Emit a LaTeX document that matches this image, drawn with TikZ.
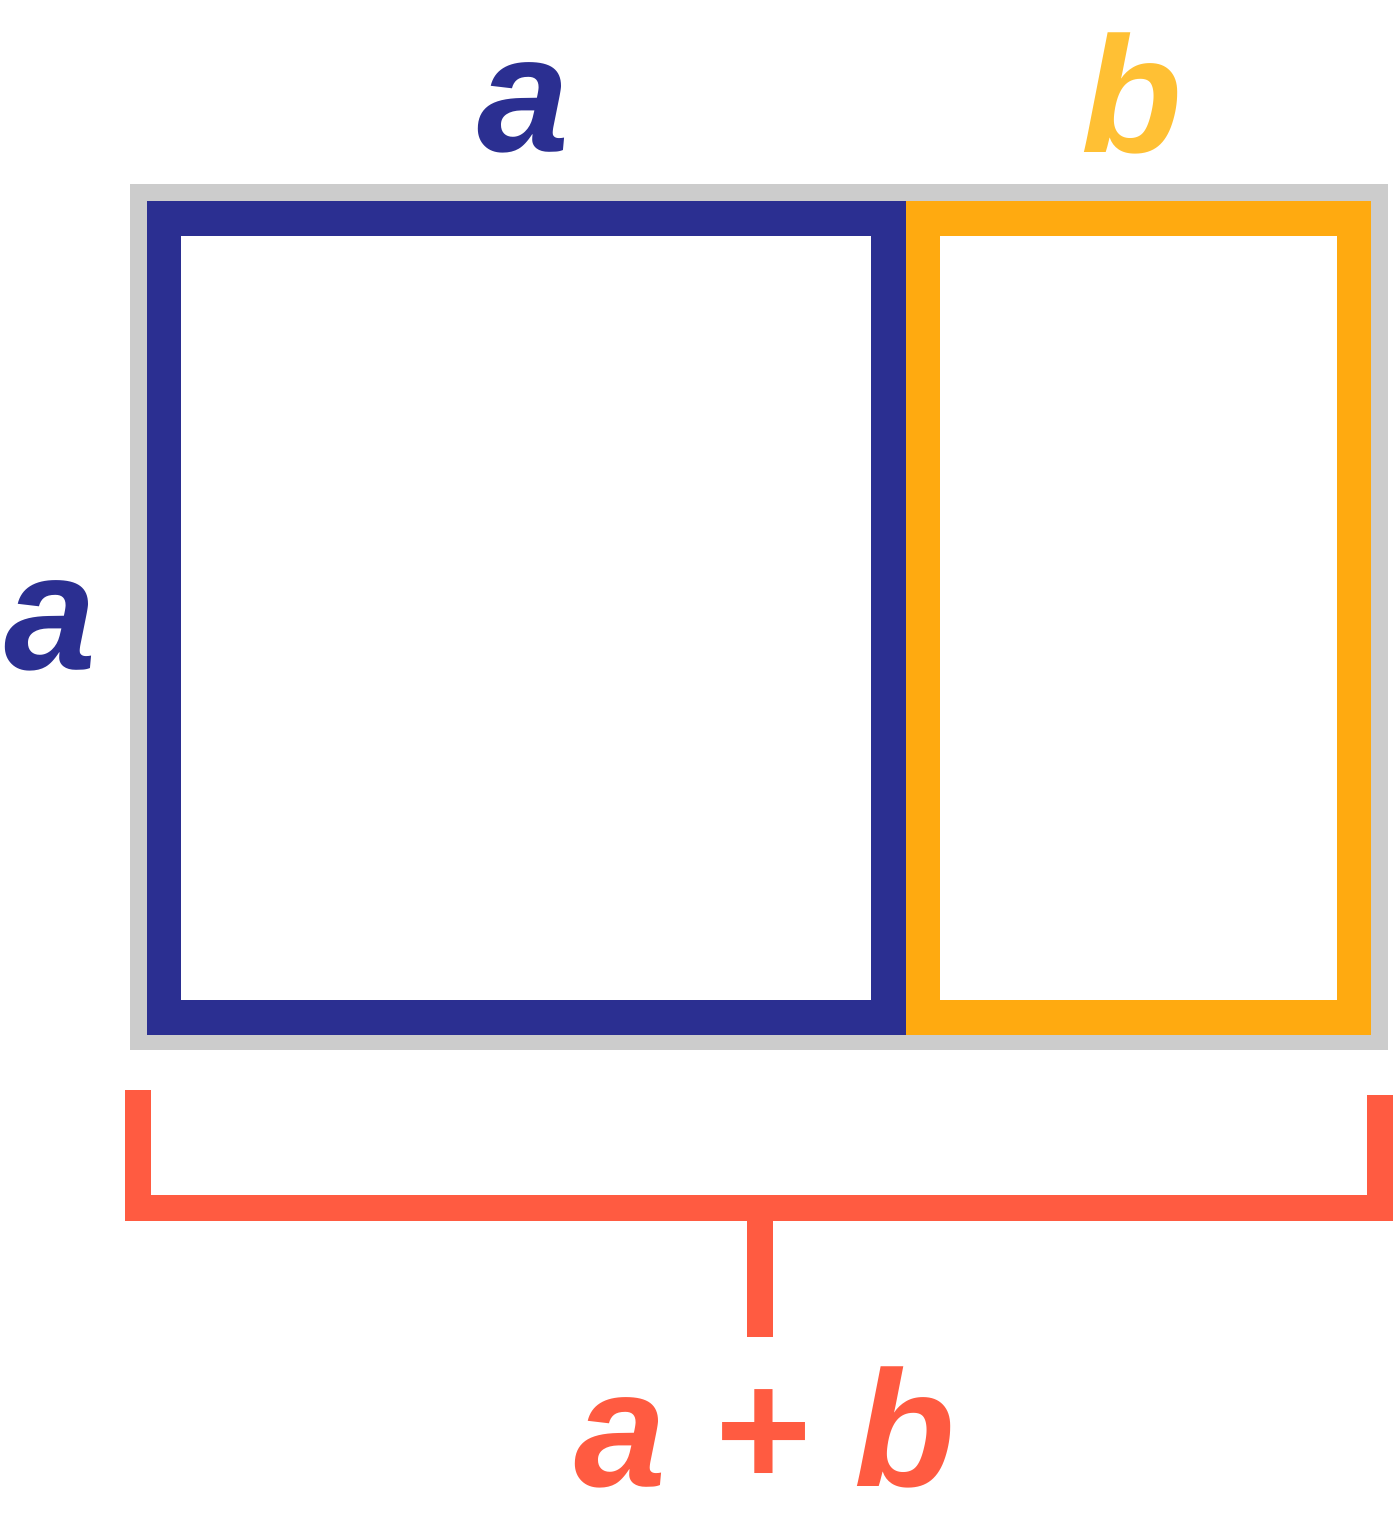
\documentclass[tikz,border=0pt]{standalone}
\usepackage{fontspec}
\setmainfont{Liberation Sans}
\definecolor{sqblue}{HTML}{2B2F91}
\definecolor{sqorange}{HTML}{FFAA10}
\definecolor{sqyellow}{HTML}{FFC034}
\definecolor{sqred}{HTML}{FF5B41}
\definecolor{sqgray}{HTML}{CCCCCC}
\begin{document}
\begin{tikzpicture}[x=0.01cm, y=-0.01cm,
    lbl/.style={font=\fontsize{47}{56}\selectfont\bfseries\itshape, inner sep=0pt, anchor=base},
    side/.style={line width=0.345cm, fill=white},
    brace/.style={sqred, line width=0.26cm, miter limit=10}]
          \useasboundingbox (0,0) rectangle (1393,1536);

          % frame and the two parts
          \fill[sqgray] (130,184) rectangle (1388,1050);
          \draw[side, draw=sqblue] (164.2,218.5) rectangle (888.3,1017.5);
          \draw[side, draw=sqorange] (922.9,218.5) rectangle (1354,1017.5);

          % bracket under the rectangle
          \coordinate (bl) at (138,1090);
          \coordinate (cl) at (138,1207.5);
          \coordinate (cr) at (1380,1207.5);
          \coordinate (br) at (1380,1095);
          \coordinate (cm) at (760,1207.5);
          \coordinate (tip) at (760,1336.7);

          \draw[brace] (bl) -- (cl) -- (cr) -- (br);
          \draw[brace] (cm) -- (tip);

          \node[lbl, text=sqblue] (atop) at (523,151) {a};
          \node[lbl, text=sqyellow] (btop) at (1132,152) {b};
          \node[lbl, text=sqblue] (aleft) at (50,669) {a};
          \node[lbl, text=sqred] (sum) at (765,1486) {a + b};
        \end{tikzpicture}
\end{document}
